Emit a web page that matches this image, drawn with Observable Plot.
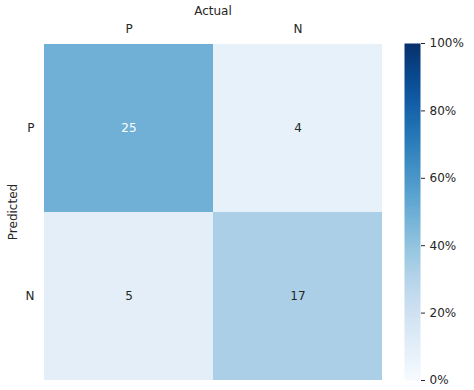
<!DOCTYPE html>
<html>
<head>
<meta charset="utf-8">
<script src="https://cdn.jsdelivr.net/npm/d3@7"></script>
<script src="https://cdn.jsdelivr.net/npm/@observablehq/plot@0.6"></script>
<style>
  html, body { margin: 0; padding: 0; background: #fff; }
  #wrap { position: relative; width: 474px; height: 390px; font-family: "DejaVu Sans", sans-serif; }
  #wrap svg { position: absolute; top: 0; }
</style>
</head>
<body>
<div id="wrap"></div>
<script>
const actual = ["P", "N"];
const predicted = ["P", "N"];
const counts = [
  [25, 4],
  [5, 17]
];
const colorTicks = [0, 20, 40, 60, 80, 100];

const total = d3.sum(counts.flat());
const cells = [];
predicted.forEach((p, i) => actual.forEach((a, j) => {
  cells.push({actual: a, predicted: p, count: counts[i][j], pct: counts[i][j] / total * 100});
}));

const font = "'DejaVu Sans', sans-serif";
const colorOpts = {type: "linear", scheme: "blues", domain: [0, 100]};

const main = Plot.plot({
  width: 474,
  height: 390,
  marginLeft: 43,
  marginRight: 92,
  marginTop: 43,
  marginBottom: 10,
  style: {fontFamily: font, fontSize: "12px", color: "#262626", background: "transparent"},
  x: {domain: actual, padding: 0, axis: "top", tickSize: 0, tickPadding: 11, label: "Actual", labelAnchor: "center", labelOffset: 37},
  y: {domain: predicted, padding: 0, tickSize: 0, tickPadding: 9, label: "Predicted", labelAnchor: "center", labelOffset: 35},
  color: colorOpts,
  marks: [
    Plot.cell(cells, {x: "actual", y: "predicted", fill: "pct", inset: 0}),
    Plot.text(cells, {
      x: "actual", y: "predicted", text: d => String(d.count),
      fill: d => d.pct > 40 ? "#ffffff" : "#262626",
      fontSize: 12
    })
  ]
});
main.style.left = "0px";

const bar = Plot.plot({
  width: 70,
  height: 390,
  marginLeft: 0,
  marginRight: 54,
  marginTop: 43,
  marginBottom: 10,
  style: {fontFamily: font, fontSize: "12px", color: "#262626", background: "transparent"},
  x: {domain: [0, 1], axis: null},
  y: {domain: [0, 100], axis: null},
  color: colorOpts,
  marks: [
    Plot.raster({x1: 0, x2: 1, y1: 0, y2: 100, width: 1, height: 256, fill: (x, y) => y}),
    Plot.axisY({anchor: "right", ticks: colorTicks, tickSize: 4, tickPadding: 5, tickFormat: d => d + "%", label: null})
  ]
});
bar.style.left = "404px";

document.getElementById("wrap").append(main, bar);
</script>
</body>
</html>
